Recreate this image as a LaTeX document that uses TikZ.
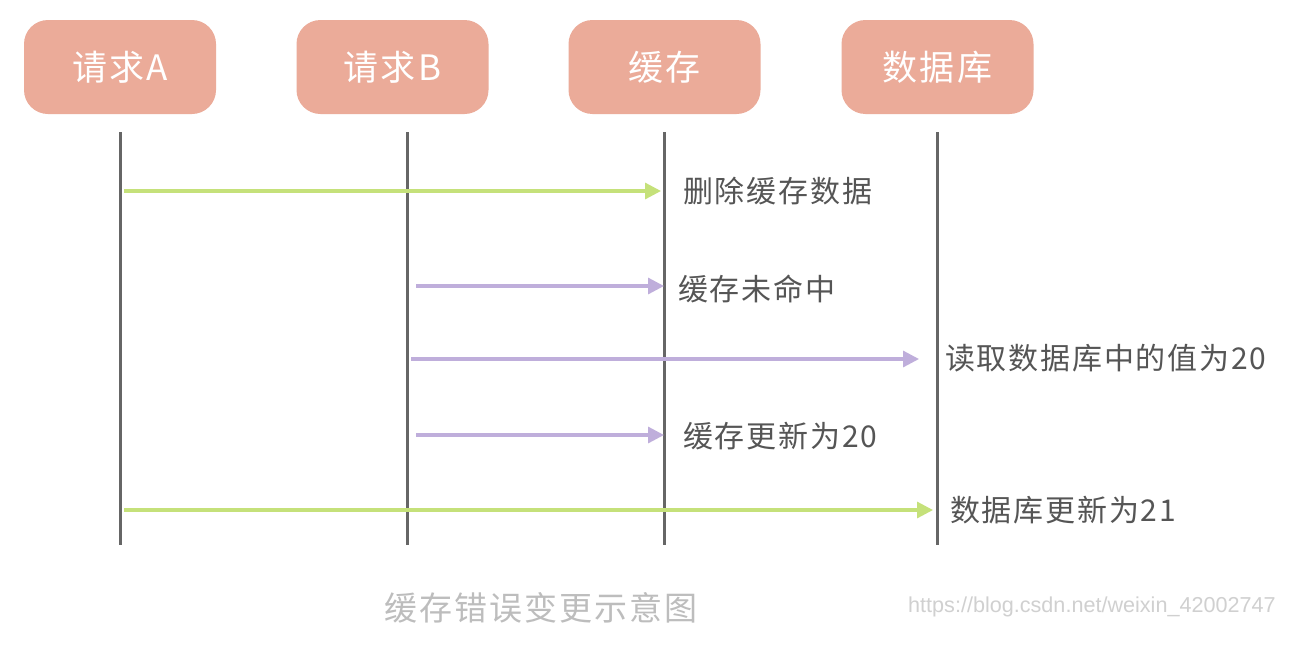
\documentclass[tikz,border=0pt]{standalone}
\usepackage{fontspec}
\setmainfont{Liberation Sans}
\newfontfamily\cjk{Noto Sans CJK SC}
\newfontfamily\cjkwide[LetterSpace=6]{Noto Sans CJK SC}
\usetikzlibrary{arrows.meta}
\definecolor{boxfill}{HTML}{EBAB99}
\definecolor{lifegray}{HTML}{666666}
\definecolor{greenarrow}{HTML}{C5E17A}
\definecolor{purplearrow}{HTML}{BFAEDB}
\definecolor{labelgray}{HTML}{555555}
\definecolor{captiongray}{HTML}{BDBDBD}
\definecolor{markgray}{HTML}{D0D0D0}
\tikzset{
  header/.style={fill=boxfill, rounded corners=24pt, minimum width=192pt, minimum height=94pt, text=white, font=\cjkwide\fontsize{35}{40}\selectfont, inner sep=0pt},
  lifeline/.style={draw=lifegray, line width=3pt},
  msggreen/.style={draw=greenarrow, line width=3.2pt, -{Triangle[length=16pt,width=16pt]}},
  msgpurple/.style={draw=purplearrow, line width=3.2pt, -{Triangle[length=16pt,width=16pt]}},
  msglabel/.style={anchor=west, text=labelgray, font=\cjkwide\fontsize{30}{36}\selectfont, inner sep=0pt},
}
\begin{document}
\begin{tikzpicture}[x=1pt,y=-1pt]
\useasboundingbox (0,0) rectangle (1311,648);
\fill[white] (0,0) rectangle (1311,648);
% headers
\node[header] (hA) at (120,67) {请求A};
\node[header] (hB) at (392.5,67) {请求B};
\node[header] (hC) at (664.5,67) {缓存};
\node[header] (hD) at (937.5,67) {数据库};
% lifelines
\coordinate (tA) at (120,132); \coordinate (bA) at (120,545);
\coordinate (tB) at (407,132); \coordinate (bB) at (407,545);
\coordinate (tC) at (664,132); \coordinate (bC) at (664,545);
\coordinate (tD) at (937,132); \coordinate (bD) at (937,545);
\draw[lifeline] (tA) -- (bA);
\draw[lifeline] (tB) -- (bB);
\draw[lifeline] (tC) -- (bC);
\draw[lifeline] (tD) -- (bD);
% messages
\coordinate (m1s) at (124,191); \coordinate (m1e) at (661,191);
\coordinate (m2s) at (416,286); \coordinate (m2e) at (664,286);
\coordinate (m3s) at (411,359); \coordinate (m3e) at (919,359);
\coordinate (m4s) at (416,435); \coordinate (m4e) at (664,435);
\coordinate (m5s) at (124,510); \coordinate (m5e) at (933,510);
\draw[msggreen] (m1s) -- (m1e);
\draw[msgpurple] (m2s) -- (m2e);
\draw[msgpurple] (m3s) -- (m3e);
\draw[msgpurple] (m4s) -- (m4e);
\draw[msggreen] (m5s) -- (m5e);
\node[msglabel] (l1) at (683,191) {删除缓存数据};
\node[msglabel] (l2) at (678,289) {缓存未命中};
\node[msglabel] (l3) at (945,358) {读取数据库中的值为20};
\node[msglabel] (l4) at (683,436) {缓存更新为20};
\node[msglabel] (l5) at (950,510) {数据库更新为21};
% caption
\node[anchor=west, text=captiongray, font=\cjkwide\fontsize{33}{38}\selectfont, inner sep=0pt] (cap) at (384,608) {缓存错误变更示意图};
\node[anchor=west, text=markgray, font=\fontsize{21.6}{24}\selectfont, inner sep=0pt] (wm) at (908,607) {https://blog.csdn.net/weixin\_42002747};
\end{tikzpicture}
\end{document}
